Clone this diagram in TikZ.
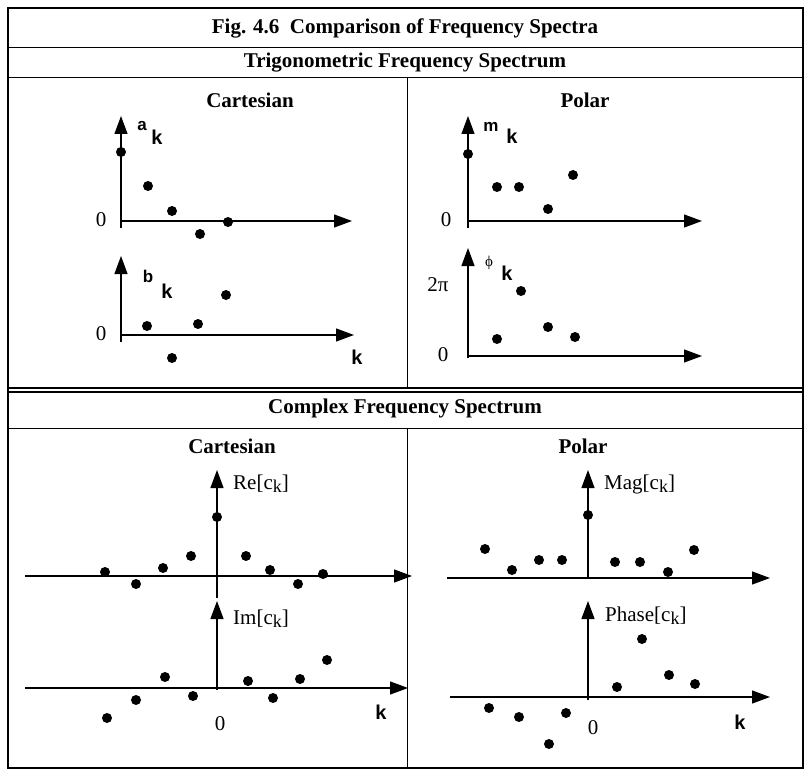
\documentclass[tikz,border=0pt]{standalone}
\usepackage{fontspec}
\setmainfont{Liberation Serif}
\newfontfamily\sansb{Liberation Sans}[BoldFont={* Bold}]
\usetikzlibrary{arrows.meta}
\newcommand{\sk}{\raisebox{-0.35ex}{\fontsize{18}{18}\selectfont k}}
\tikzset{
	dot/.style={circle, fill, inner sep=0pt, minimum size=10pt},
	axis/.style={-{Triangle[length=18pt,width=13pt]}, line width=1.2pt},
	title/.style={font=\bfseries\fontsize{21}{21}\selectfont},
	lbl/.style={font=\fontsize{21}{21}\selectfont, inner sep=1pt},
	sk/.style={font=\sansb\bfseries\fontsize{20}{20}\selectfont, inner sep=1pt},
	sl/.style={font=\sansb\bfseries\fontsize{17}{17}\selectfont, inner sep=1pt},
}
\begin{document}
\begin{tikzpicture}[x=1pt, y=-1pt]

\useasboundingbox (0,0) rectangle (812,773);
\draw[line width=1.2pt] (8,8) rectangle (803,768);
\draw[line width=1pt] (8,48) -- (803,48) (8,78) -- (803,78) (8,428) -- (803,428);
\draw[line width=1pt] (407,78) -- (407,388) (407,428) -- (407,768);
\draw[line width=1.6pt] (8,388) -- (803,388) (8,392) -- (803,392);

\node(t0) [title] at (405,28) {Fig. 4.6\enspace Comparison of Frequency Spectra};
\node(t1) [title] at (405,63) {Trigonometric Frequency Spectrum};
\node(t2) [title] at (405,408) {Complex Frequency Spectrum};
\node(t3) [title] at (250,100) {Cartesian};
\node(t4) [title] at (585,100) {Polar};
\node(t5) [title] at (232,446) {Cartesian};
\node(t6) [title] at (583,446) {Polar};

% trigonometric, cartesian
\coordinate(a0) at (121,228); \coordinate(a1) at (121,116);
\coordinate(a2) at (121,221); \coordinate(a3) at (352,221);
\draw [axis] (a0) -- (a1); \draw [axis] (a2) -- (a3);
\node(az) [lbl] at (101,220) {0};
\node(al) [sl] at (142,126) {a};
\node(alk) [sk] at (157,137) {k};
\foreach \x/\y [count=\i] in {121/152, 148/186, 172/211, 200/234, 228/222}
	\node(ad\i) [dot] at (\x,\y) {};

\coordinate(b0) at (121,342); \coordinate(b1) at (121,256);
\coordinate(b2) at (121,335); \coordinate(b3) at (354,335);
\draw [axis] (b0) -- (b1); \draw [axis] (b2) -- (b3);
\node(bz) [lbl] at (101,334) {0};
\node(bl) [sl] at (148,276) {b};
\node(blk) [sk] at (167,291) {k};
\node(bk) [sk] at (357,357) {k};
\foreach \x/\y [count=\i] in {147/326, 172/358, 198/324, 226/295}
	\node(bd\i) [dot] at (\x,\y) {};

% trigonometric, polar
\coordinate(m0) at (468,228); \coordinate(m1) at (468,116);
\coordinate(m2) at (468,221); \coordinate(m3) at (702,221);
\draw [axis] (m0) -- (m1); \draw [axis] (m2) -- (m3);
\node(mz) [lbl] at (446,220) {0};
\node(ml) [sl] at (491,127) {m};
\node(mlk) [sk] at (512,136) {k};
\foreach \x/\y [count=\i] in {468/154, 497/187, 519/187, 548/209, 573/175}
	\node(md\i) [dot] at (\x,\y) {};

\coordinate(p0) at (468,358); \coordinate(p1) at (468,248);
\coordinate(p2) at (468,356); \coordinate(p3) at (702,356);
\draw [axis] (p0) -- (p1); \draw [axis] (p2) -- (p3);
\node(pt) [lbl] at (438,285) {2π};
\node(pz) [lbl] at (443,355) {0};
\node(pl) [lbl, font=\fontsize{15}{15}\selectfont] at (489,263) {ϕ};
\node(plk) [sk] at (507,273) {k};
\foreach \x/\y [count=\i] in {497/339, 521/291, 548/327, 575/337}
	\node(pd\i) [dot] at (\x,\y) {};

% complex, cartesian
\coordinate(r0) at (217,598); \coordinate(r1) at (217,470);
\coordinate(r2) at (25,576); \coordinate(r3) at (412,576);
\draw [axis] (r0) -- (r1); \draw [axis] (r2) -- (r3);
\node(rl) [lbl, anchor=west] at (232,484) {Re[c\sk]};
\foreach \x/\y [count=\i] in {105/572, 136/584, 163/568, 191/556, 217/517, 246/556, 270/570, 298/584, 323/574}
	\node(rd\i) [dot] at (\x,\y) {};

\coordinate(i0) at (217,690); \coordinate(i1) at (217,601);
\coordinate(i2) at (25,688); \coordinate(i3) at (408,688);
\draw [axis] (i0) -- (i1); \draw [axis] (i2) -- (i3);
\node(il) [lbl, anchor=west] at (232,619) {Im[c\sk]};
\node(iz) [lbl] at (220,724) {0};
\node(ik) [sk] at (381,712) {k};
\foreach \x/\y [count=\i] in {107/718, 136/700, 165/677, 193/696, 248/681, 273/698, 300/679, 327/660}
	\node(id\i) [dot] at (\x,\y) {};

% complex, polar
\coordinate(g0) at (588,578); \coordinate(g1) at (588,470);
\coordinate(g2) at (447,578); \coordinate(g3) at (770,578);
\draw [axis] (g0) -- (g1); \draw [axis] (g2) -- (g3);
\node(gl) [lbl, anchor=west] at (603,484) {Mag[c\sk]};
\foreach \x/\y [count=\i] in {485/549, 512/570, 539/560, 562/560, 588/515, 615/562, 640/562, 668/572, 694/550}
	\node(gd\i) [dot] at (\x,\y) {};

\coordinate(h0) at (588,700); \coordinate(h1) at (588,601);
\coordinate(h2) at (450,697); \coordinate(h3) at (770,697);
\draw [axis] (h0) -- (h1); \draw [axis] (h2) -- (h3);
\node(hl) [lbl, anchor=west] at (604,616) {Phase[c\sk]};
\node(hz) [lbl] at (593,728) {0};
\node(hk) [sk] at (740,722) {k};
\foreach \x/\y [count=\i] in {489/708, 519/717, 549/744, 566/713, 617/687, 642/639, 669/675, 695/684}
	\node(hd\i) [dot] at (\x,\y) {};

\end{tikzpicture}
\end{document}
